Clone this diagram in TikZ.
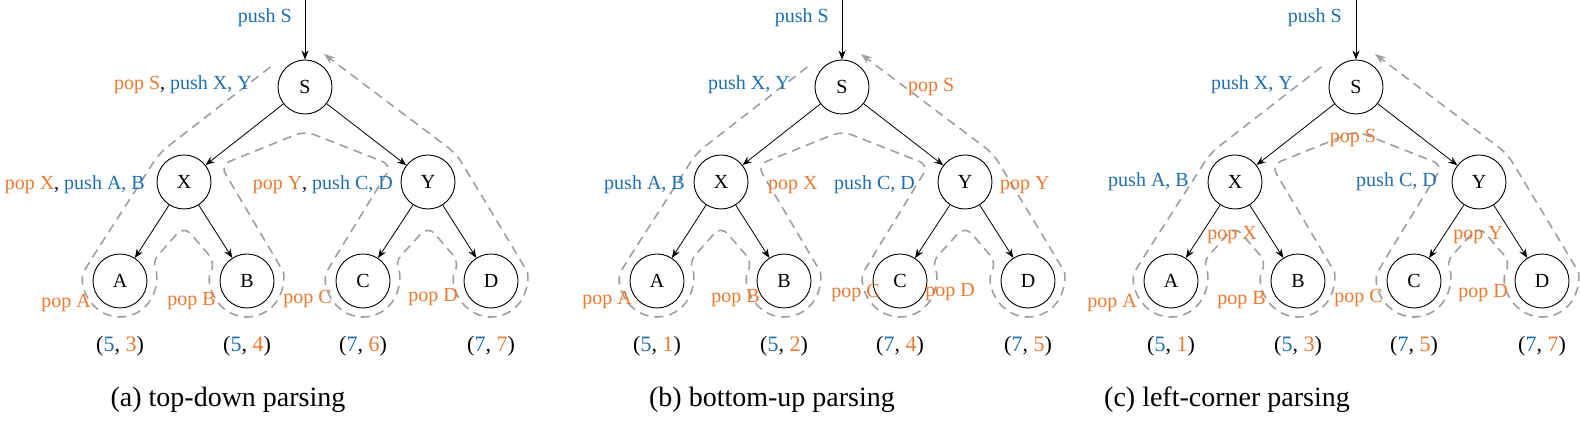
\documentclass[tikz,border=0pt]{standalone}
\usepackage{fontspec}
\setmainfont{Liberation Serif}
\usetikzlibrary{calc,arrows.meta}
\definecolor{cb}{RGB}{31,110,175}
\definecolor{co}{RGB}{232,122,50}
\newcommand{\B}[1]{\textcolor{cb}{#1}}
\newcommand{\Or}[1]{\textcolor{co}{#1}}
\newcommand{\drawtree}{%
  \node[nd] (S) at (305,335) {S};
  \node[nd] (X) at (184,240) {X};
  \node[nd] (Y) at (428,240) {Y};
  \node[nd] (A) at (120,141) {A};
  \node[nd] (B) at (247,141) {B};
  \node[nd] (C) at (363,141) {C};
  \node[nd] (D) at (491,141) {D};
  \coordinate (top) at (305,422);
  \draw[edge] (top) -- (S);
  \draw[edge] (S) -- (X); \draw[edge] (S) -- (Y);
  \draw[edge] (X) -- (A); \draw[edge] (X) -- (B);
  \draw[edge] (Y) -- (C); \draw[edge] (Y) -- (D);
  \draw[contour] ($(S)+(150:40)$) -- ($(X)+(130:38)$) -- ($(A)+(150:36)$)
    arc[start angle=150,end angle=390,radius=36]
    -- ($(X)+(-90:44)$) -- ($(B)+(150:36)$)
    arc[start angle=150,end angle=390,radius=36]
    -- ($(X)+(25:40)$) -- ($(S)+(-90:44)$) -- ($(Y)+(155:40)$) -- ($(C)+(150:36)$)
    arc[start angle=150,end angle=390,radius=36]
    -- ($(Y)+(-90:44)$) -- ($(D)+(150:36)$)
    arc[start angle=150,end angle=390,radius=36]
    -- ($(Y)+(45:40)$) -- ($(S)+(60:38)$);
}
\begin{document}
\begin{tikzpicture}[x=1pt,y=1pt,
  nd/.style={circle,draw,line width=0.9pt,minimum size=54pt,inner sep=0pt,font=\fontsize{20}{20}\selectfont},
  edge/.style={-{Stealth[length=9pt,width=7pt]},line width=0.8pt},
  contour/.style={draw=gray!75,dashed,dash pattern=on 9pt off 6pt,line width=1.6pt,rounded corners=10pt,-{Stealth[length=11pt,width=8pt]}},
  lb/.style={font=\fontsize{20}{20}\selectfont,inner sep=0pt},
  pr/.style={font=\fontsize{22}{22}\selectfont,inner sep=0pt},
  capt/.style={font=\fontsize{28}{28}\selectfont,inner sep=0pt}]
\useasboundingbox (0,0) rectangle (1580,422);
% panel a
\begin{scope}[name prefix=a-]
\drawtree
\node[lb,anchor=east] (l1) at (292,404) {\B{push S}};
\node[lb,anchor=east] (l2) at (252,337) {\Or{pop S}, \B{push X, Y}};
\node[lb,anchor=east] (l3) at (145,237) {\Or{pop X}, \B{push A, B}};
\node[lb,anchor=east] (l4) at (393,237) {\Or{pop Y}, \B{push C, D}};
\node[lb,anchor=east] (l5) at (91,119) {\Or{pop A}};
\node[lb,anchor=east] (l6) at (216,121) {\Or{pop B}};
\node[lb,anchor=east] (l7) at (332,123) {\Or{pop C}};
\node[lb,anchor=east] (l8) at (458,125) {\Or{pop D}};
\node[pr] (p1) at (120,76) {(\B{5}, \Or{3})};
\node[pr] (p2) at (247,76) {(\B{5}, \Or{4})};
\node[pr] (p3) at (363,76) {(\B{7}, \Or{6})};
\node[pr] (p4) at (491,76) {(\B{7}, \Or{7})};
\node[capt] (cp) at (228,22) {(a) top-down parsing};
\end{scope}
% panel b
\begin{scope}[shift={(537,0)},name prefix=b-]
\drawtree
\node[lb,anchor=east] (l1) at (292,404) {\B{push S}};
\node[lb,anchor=east] (l2) at (253,337) {\B{push X, Y}};
\node[lb,anchor=west] (l9) at (371,335) {\Or{pop S}};
\node[lb,anchor=east] (l3) at (148,237) {\B{push A, B}};
\node[lb,anchor=west] (l10) at (231,237) {\Or{pop X}};
\node[lb,anchor=east] (l4) at (378,237) {\B{push C, D}};
\node[lb,anchor=west] (l11) at (463,237) {\Or{pop Y}};
\node[lb,anchor=east] (l5) at (95,122) {\Or{pop A}};
\node[lb,anchor=east] (l6) at (223,124) {\Or{pop B}};
\node[lb,anchor=east] (l7) at (343,129) {\Or{pop C}};
\node[lb,anchor=east] (l8) at (438,130) {\Or{pop D}};
\node[pr] (p1) at (120,76) {(\B{5}, \Or{1})};
\node[pr] (p2) at (247,76) {(\B{5}, \Or{2})};
\node[pr] (p3) at (363,76) {(\B{7}, \Or{4})};
\node[pr] (p4) at (491,76) {(\B{7}, \Or{5})};
\node[capt] (cp) at (235,22) {(b) bottom-up parsing};
\end{scope}
% panel c
\begin{scope}[shift={(1051,0)},name prefix=c-]
\drawtree
\node[lb,anchor=east] (l1) at (291,404) {\B{push S}};
\node[lb,anchor=east] (l2) at (242,337) {\B{push X, Y}};
\node[lb] (l9) at (302,284) {\Or{pop S}};
\node[lb,anchor=east] (l3) at (138,240) {\B{push A, B}};
\node[lb,anchor=east] (l4) at (386,240) {\B{push C, D}};
\node[lb] (l10) at (181,187) {\Or{pop X}};
\node[lb] (l11) at (427,187) {\Or{pop Y}};
\node[lb,anchor=east] (l5) at (86,119) {\Or{pop A}};
\node[lb,anchor=east] (l6) at (215,122) {\Or{pop B}};
\node[lb,anchor=east] (l7) at (332,124) {\Or{pop C}};
\node[lb,anchor=east] (l8) at (457,129) {\Or{pop D}};
\node[pr] (p1) at (120,76) {(\B{5}, \Or{1})};
\node[pr] (p2) at (247,76) {(\B{5}, \Or{3})};
\node[pr] (p3) at (363,76) {(\B{7}, \Or{5})};
\node[pr] (p4) at (491,76) {(\B{7}, \Or{7})};
\node[capt] (cp) at (176,22) {(c) left-corner parsing};
\end{scope}
\end{tikzpicture}
\end{document}
